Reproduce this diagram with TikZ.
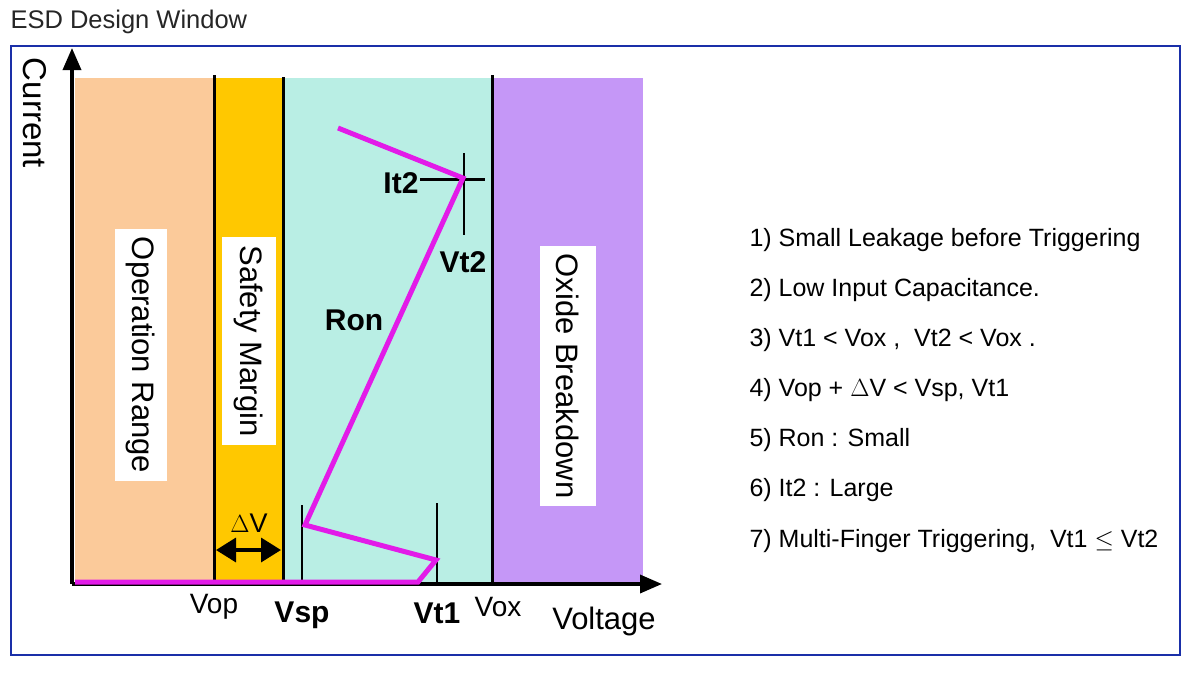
\documentclass[tikz,border=0pt]{standalone}
\usepackage{fontspec}
\setmainfont{Liberation Sans}
\usetikzlibrary{arrows.meta}
\definecolor{frameblue}{HTML}{1A2FA8}
\definecolor{orng}{HTML}{FBCA9A}
\definecolor{yel}{HTML}{FFC800}
\definecolor{teal}{HTML}{B9EEE4}
\definecolor{purp}{HTML}{C597F7}
\definecolor{mag}{HTML}{E21BE8}
\tikzset{
  vline/.style={line width=3pt},
  boxlbl/.style={fill=white,rotate=-90,font=\fontsize{31}{31}\selectfont,inner xsep=8pt,inner ysep=4pt},
  bl/.style={font=\fontsize{30}{30}\selectfont\bfseries},
  ax/.style={font=\fontsize{28}{28}\selectfont},
  item/.style={anchor=west,font=\fontsize{25}{25}\selectfont},
  arr/.style={line width=3.5pt,-{Triangle[length=22pt,width=18pt]}}
}
\begin{document}
\begin{tikzpicture}[x=1pt,y=-1pt]
\useasboundingbox (0,0) rectangle (1192,675);
\fill[white] (0,0) rectangle (1192,675);
\node[anchor=west,font=\fontsize{25.5}{25}\selectfont,text=black!85] (title) at (7,22) {ESD Design Window};
\draw[frameblue,line width=2pt] (11,46) rectangle (1180,655);
% regions
\fill[orng] (75,78) rectangle (214,582);
\fill[yel] (214,78) rectangle (283,582);
\fill[teal] (283,78) rectangle (492,582);
\fill[purp] (492,78) rectangle (643,582);
\draw[vline] (214,75) -- (214,582);
\draw[vline] (283,77) -- (283,582);
\draw[vline] (492,75) -- (492,582);
\node[boxlbl,minimum height=52pt] (op) at (141,355) {Operation Range};
\node[boxlbl,minimum height=54pt] (sm) at (249,341) {Safety Margin};
\node[boxlbl,minimum height=56pt] (ox) at (568,376) {Oxide Breakdown};
% axes
\coordinate (o) at (72,584);
\coordinate (yt) at (72,48);
\coordinate (xt) at (662,584);
\draw[arr] (o) -- (yt);
\draw[arr] (o) -- (xt);
\node[rotate=-90,font=\fontsize{33}{33}\selectfont] (cur) at (35,113) {Current};
% ticks
\draw[line width=2.5pt] (302,505) -- (302,580);
\draw[line width=2.5pt] (437,503) -- (437,584);
\draw[line width=3pt] (420,179) -- (485,179);
\draw[line width=2.5pt] (464,153) -- (464,235);
% curve
\draw[mag,line width=5pt,line join=miter] (75,582) -- (418,582) -- (436,560) -- (305,525) -- (463,178) -- (338,128);
% labels
\node[bl,anchor=east] (it2) at (422,183) {It2};
\node[bl] (vt2) at (463,262) {Vt2};
\node[bl] (ron) at (354,320) {Ron};
\node[font=\fontsize{27}{27}\selectfont] (dv) at (249,523) {$\Delta$V};
\coordinate (dl) at (216,550);
\coordinate (dr) at (281,550);
\draw[line width=3.5pt,{Triangle[length=20pt,width=24pt]}-{Triangle[length=20pt,width=24pt]}] (dl) -- (dr);
\node[ax] (vop) at (214,607) {Vop};
\node[bl] (vsp) at (302,615) {Vsp};
\node[bl] (vt1) at (437,613) {Vt1};
\node[ax] (vox) at (498,607) {Vox};
\node[font=\fontsize{31}{31}\selectfont] (volt) at (604,621) {Voltage};
% list
\node[item] (l1) at (746,240) {1) Small Leakage before Triggering};
\node[item] (l2) at (746,290) {2) Low Input Capacitance.};
\node[item] (l3) at (746,340) {3) Vt1 < Vox ,\ \ Vt2 < Vox .};
\node[item] (l4) at (746,390) {4) Vop + $\Delta$V < Vsp, Vt1};
\node[item] (l5) at (746,440) {5) Ron : Small};
\node[item] (l6) at (746,490) {6) It2 : Large};
\node[item] (l7) at (746,541) {7) Multi-Finger Triggering,\ \ Vt1 $\leq$ Vt2};
\end{tikzpicture}
\end{document}
